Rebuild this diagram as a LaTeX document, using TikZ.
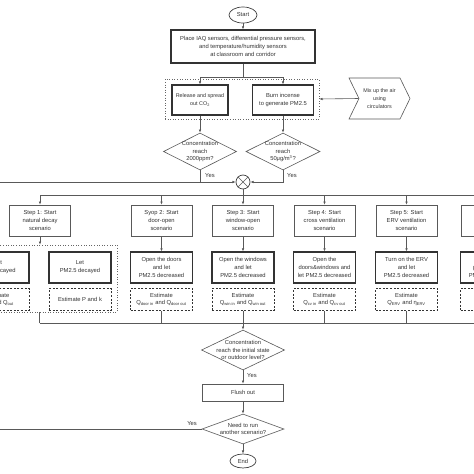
\documentclass[tikz,border=0pt]{standalone}
\usepackage{fontspec}
\setmainfont{Liberation Sans}
\usetikzlibrary{arrows.meta,shapes.geometric,shapes.symbols}
\begin{document}
\begin{tikzpicture}[x=1pt,y=-1pt,
  every node/.style={font=\fontsize{5.8}{7.8}\selectfont, text=black!80, align=center, inner sep=0pt},
  ln/.style={draw=black!65, line width=0.6pt},
  arr/.style={ln, -{Latex[length=3.2pt,width=2.6pt]}},
  box/.style={draw=black!65, line width=0.6pt, minimum width=61pt, minimum height=31pt},
  act/.style={draw=black!80, line width=1.1pt, minimum width=62pt, minimum height=31pt},
  est/.style={draw=black!80, line width=1pt, dash pattern=on 2pt off 1.6pt, minimum width=62pt, minimum height=22pt},
  grp/.style={draw=black!60, line width=0.6pt, dotted},
  dia/.style={diamond, draw=black!65, line width=0.6pt},
  term/.style={ellipse, draw=black!75, line width=0.7pt},
]
\clip (0,0) rectangle (474,474);
\fill[white] (0,0) rectangle (474,474);

% top part
\node[term, minimum width=28pt, minimum height=16pt] (start) at (243,15) {Start};
\node[act, minimum width=144pt, minimum height=33pt] (place) at (243,46.5) {Place IAQ sensors, differential pressure sensors,\\ and temperature/humidity sensors\\ at classroom and corridor};
\node[grp, minimum width=154pt, minimum height=40pt] (g0) at (242,99) {};
\node[act, minimum width=56pt, minimum height=30pt, font=\fontsize{5.4}{7.8}\selectfont] (rel) at (200,100) {Release and spread\\ out CO\textsubscript{2}};
\node[act, minimum width=61pt, minimum height=30pt] (burn) at (283,100) {Burn incense\\ to generate PM2.5};
\node[signal, signal from=west, signal to=east, signal pointer angle=128, draw=black!65, line width=0.6pt, minimum width=61pt, minimum height=41pt, font=\fontsize{5.4}{7.6}\selectfont] (mix) at (379.5,98.5) {Mix up the air\\ using\\ circulators};
\coordinate (j1) at (243,77);
\draw[arr] (start.south) -- (place.north);
\draw[ln] (place.south) -- (j1);
\draw[arr] (j1) -| (rel.north);
\draw[arr] (j1) -| (burn.north);
\draw[arr] (mix.west) -- (g0.east);

% decisions
\node[dia, minimum width=73pt, minimum height=37pt] (d1) at (200,151.5) {};
\node at (d1.center) {Concentration\\ reach\\ 2000ppm?};
\node[dia, minimum width=74pt, minimum height=37pt] (d2) at (283,151.5) {};
\node at (d2.center) {Concentration\\ reach\\ 50μg/m\textsuperscript{3}?};
\draw[arr] (rel.south) -- (d1.north);
\draw[arr] (burn.south) -- (d2.north);

\node[circle, draw=black!75, line width=0.7pt, minimum size=14pt] (sum) at (243,182) {};
\draw[ln] (sum.45) -- (sum.225) (sum.135) -- (sum.315);
\coordinate (loopin) at (-5,182);
\draw[arr] (loopin) -- (sum.west);
\draw[ln] (d1.south) -- (d1.south |- sum.west);
\draw[arr] (d2.south) |- (sum.east);
\node[anchor=west] (y1) at (205,176) {Yes};
\node[anchor=west] (y2) at (287,176) {Yes};

% steps
\coordinate (bus1) at (243,195);
\draw[ln] (sum.south) -- (bus1);
\node[box] (s1) at (40,220.5) {Step 1: Start\\ natural decay\\ scenario};
\node[box] (s2) at (161.5,220.5) {Syop 2: Start\\ door-open\\ scenario};
\node[box] (s3) at (243,220.5) {Step 3: Start\\ window-open\\ scenario};
\node[box] (s4) at (324.5,220.5) {Step 4: Start\\ cross ventilation\\ scenario};
\node[box] (s5) at (406.5,220.5) {Step 5: Start\\ ERV ventilation\\ scenario};
\node[box] (s6) at (491.5,220.5) {};
\foreach \s in {s1,s2,s3,s4,s5,s6} \draw[arr] (bus1) -| (\s.north);

% actions
\node[grp, minimum width=155pt, minimum height=67pt] (g1) at (39.5,278.5) {};
\node[act] (a1l) at (-2,267.5) {Let\\ CO\textsubscript{2} decayed};
\node[act] (a1r) at (80,267.5) {Let\\ PM2.5 decayed};
\node[act] (a2) at (161.5,267.5) {Open the doors\\ and let\\ PM2.5 decreased};
\node[act] (a3) at (243,267.5) {Open the windows\\ and let\\ PM2.5 decreased};
\node[act] (a4) at (324.5,267.5) {Open the\\ doors\&windows and\\ let PM2.5 decreased};
\node[act] (a5) at (406.5,267.5) {Turn on the ERV\\ and let\\ PM2.5 decreased};
\node[act] (a6) at (491.5,267.5) {Turn on the\\ purifier and let\\ PM2.5 decreased};
\draw[arr] (s1.south) -- (s1.south |- g1.north);
\foreach \i in {2,3,4,5,6} \draw[arr] (s\i.south) -- (a\i.north);

% estimates
\node[est] (e1l) at (-2,299.5) {Estimate\\ Q\textsubscript{in} and Q\textsubscript{out}};
\node[est] (e1r) at (80,299.5) {Estimate P and k};
\node[est] (e2) at (161.5,299.5) {Estimate\\ Q\textsubscript{door in} and Q\textsubscript{door out}};
\node[est] (e3) at (243,299.5) {Estimate\\ Q\textsubscript{win in} and Q\textsubscript{win out}};
\node[est] (e4) at (324.5,299.5) {Estimate\\ Q\textsubscript{cv in} and Q\textsubscript{cv out}};
\node[est] (e5) at (406.5,299.5) {Estimate\\ Q\textsubscript{ERV} and η\textsubscript{ERV}};
\node[est] (e6) at (491.5,299.5) {};

\coordinate (bus2) at (243,323);
\draw[ln] (g1.south) -- (g1.south |- bus2);
\foreach \i in {2,4,5,6} \draw[ln] (e\i.south) -- (e\i.south |- bus2);
\draw[ln] (g1.south |- bus2) -- (e6.south |- bus2);

% bottom
\node[dia, minimum width=83pt, minimum height=40pt] (d3) at (243,350) {};
\node at (d3.center) {Concentration\\ reach the initial state\\ or outdoor level?};
\draw[arr] (e3.south) -- (d3.north);
\node[box, minimum width=81pt, minimum height=17pt] (flush) at (243,392.5) {Flush out};
\draw[arr] (d3.south) -- (flush.north);
\node[anchor=west] (y3) at (247,376) {Yes};
\node[dia, minimum width=82pt, minimum height=30pt] (d4) at (243,429) {};
\node at (d4.center) {Need to run\\ another scenario?};
\draw[arr] (flush.south) -- (d4.north);
\node[term, minimum width=26pt, minimum height=14pt] (end) at (243,461) {End};
\draw[arr] (d4.south) -- (end.north);
\coordinate (loopout) at (-5,429);
\draw[ln] (d4.west) -- (loopout);
\node (y4) at (192,423.5) {Yes};
\end{tikzpicture}
\end{document}
